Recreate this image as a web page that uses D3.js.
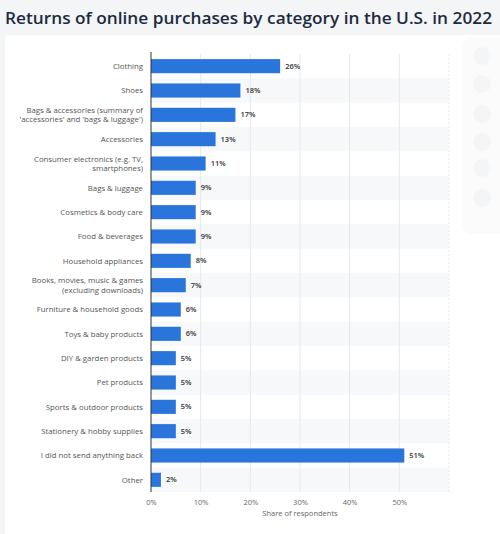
<!DOCTYPE html>
<html>
<head>
<meta charset="utf-8">
<script src="https://cdn.jsdelivr.net/npm/d3@7"></script>
<style>
  html, body { margin: 0; padding: 0; background: #f4f5f7; }
  svg { display: block; font-family: "Open Sans", "DejaVu Sans", sans-serif; }
</style>
</head>
<body>
<svg id="chart" width="500" height="534"></svg>
<script>
// données
var categories = [
    ["Clothing"],
    ["Shoes"],
    ["Bags & accessories (summary of", "'accessories' and 'bags & luggage')"],
    ["Accessories"],
    ["Consumer electronics (e.g. TV,", "smartphones)"],
    ["Bags & luggage"],
    ["Cosmetics & body care"],
    ["Food & beverages"],
    ["Household appliances"],
    ["Books, movies, music & games", "(excluding downloads)"],
    ["Furniture & household goods"],
    ["Toys & baby products"],
    ["DIY & garden products"],
    ["Pet products"],
    ["Sports & outdoor products"],
    ["Stationery & hobby supplies"],
    ["I did not send anything back"],
    ["Other"]
];
var valeurs = [26, 18, 17, 13, 11, 9, 9, 9, 8, 7, 6, 6, 5, 5, 5, 5, 51, 2];
var ticks = [0, 10, 20, 30, 40, 50];

var svg = d3.select("#chart");
var marge = { haut: 54, gauche: 151, droite: 449, bas: 492 };

// titre
svg.append("text")
    .attr("x", 5)
    .attr("y", 24)
    .attr("fill", "#1d2b3f")
    .attr("textLength", 487)
    .attr("lengthAdjust", "spacingAndGlyphs")
    .style("font-size", "17px")
    .style("font-weight", 600)
    .text("Returns of online purchases by category in the U.S. in 2022");

// carte blanche
svg.append("rect")
    .attr("x", 5).attr("y", 35)
    .attr("width", 500).attr("height", 520)
    .attr("rx", 4)
    .attr("fill", "#ffffff");

// panneau latéral estompé
var panneau = svg.append("g");
panneau.append("rect")
    .attr("x", 462).attr("y", 38)
    .attr("width", 44).attr("height", 196)
    .attr("rx", 8)
    .attr("fill", "#fbfbfc");
[56, 84, 114, 142, 168, 198].forEach(function (cy) {
    panneau.append("circle")
        .attr("cx", 482).attr("cy", cy).attr("r", 9)
        .attr("fill", "#f4f5f6");
});

var x = d3.scaleLinear().domain([0, 60]).range([marge.gauche, marge.droite]);
var y = d3.scaleBand()
    .domain(d3.range(categories.length))
    .range([marge.haut, marge.bas])
    .paddingInner(0.42)
    .paddingOuter(0.21);
var pas = y.step();

// bandes alternées
svg.append("g").selectAll("rect")
    .data(d3.range(categories.length).filter(function (i) { return i % 2 === 1; }))
    .enter().append("rect")
    .attr("x", marge.gauche)
    .attr("y", function (i) { return marge.haut + i * pas; })
    .attr("width", marge.droite - marge.gauche)
    .attr("height", pas)
    .attr("fill", "#f7f8f9");

// grille
svg.append("g").selectAll("line")
    .data(ticks.slice(1).concat([60]))
    .enter().append("line")
    .attr("x1", function (d) { return x(d); })
    .attr("x2", function (d) { return x(d); })
    .attr("y1", marge.haut)
    .attr("y2", marge.bas)
    .attr("stroke", "#e6e8ea")
    .attr("stroke-width", 1)
    .attr("stroke-dasharray", function (d) { return d === 60 ? "2,2" : null; });

// barres
svg.append("g").selectAll("rect")
    .data(valeurs)
    .enter().append("rect")
    .attr("x", x(0))
    .attr("y", function (d, i) { return y(i); })
    .attr("width", function (d) { return x(d) - x(0); })
    .attr("height", y.bandwidth())
    .attr("fill", "#2a75dc");

// étiquettes de valeurs
svg.append("g").selectAll("text")
    .data(valeurs)
    .enter().append("text")
    .attr("x", function (d) { return x(d) + 5; })
    .attr("y", function (d, i) { return y(i) + y.bandwidth() / 2; })
    .attr("dy", "0.35em")
    .attr("fill", "#333")
    .style("font-size", "7.5px")
    .style("font-weight", 600)
    .text(function (d) { return d + "%"; });

// étiquettes de catégories
var interligne = 9.3;
svg.append("g").selectAll("text")
    .data(categories)
    .enter().append("text")
    .attr("text-anchor", "end")
    .attr("fill", "#555")
    .style("font-size", "7.8px")
    .each(function (d, i) {
        var t = d3.select(this);
        var centre = y(i) + y.bandwidth() / 2;
        var debut = centre - (d.length - 1) * interligne / 2 + 2.7;
        d.forEach(function (ligne, k) {
            t.append("tspan")
                .attr("x", marge.gauche - 8)
                .attr("y", debut + k * interligne)
                .text(ligne);
        });
    });

// axe vertical
svg.append("line")
    .attr("x1", x(0)).attr("x2", x(0))
    .attr("y1", marge.haut - 2).attr("y2", marge.bas)
    .attr("stroke", "#333")
    .attr("stroke-width", 1);

// axe horizontal
var axeX = svg.append("g")
    .attr("transform", "translate(0," + marge.bas + ")")
    .call(d3.axisBottom(x).tickValues(ticks).tickSize(0).tickPadding(8)
        .tickFormat(function (d) { return d + "%"; }));
axeX.select(".domain").remove();
axeX.selectAll("text")
    .attr("fill", "#666")
    .style("font-size", "7.5px")
    .style("font-family", "'Open Sans', sans-serif");

svg.append("text")
    .attr("x", (marge.gauche + marge.droite) / 2)
    .attr("y", 516)
    .attr("text-anchor", "middle")
    .attr("fill", "#666")
    .style("font-size", "7.5px")
    .text("Share of respondents");
</script>
</body>
</html>
